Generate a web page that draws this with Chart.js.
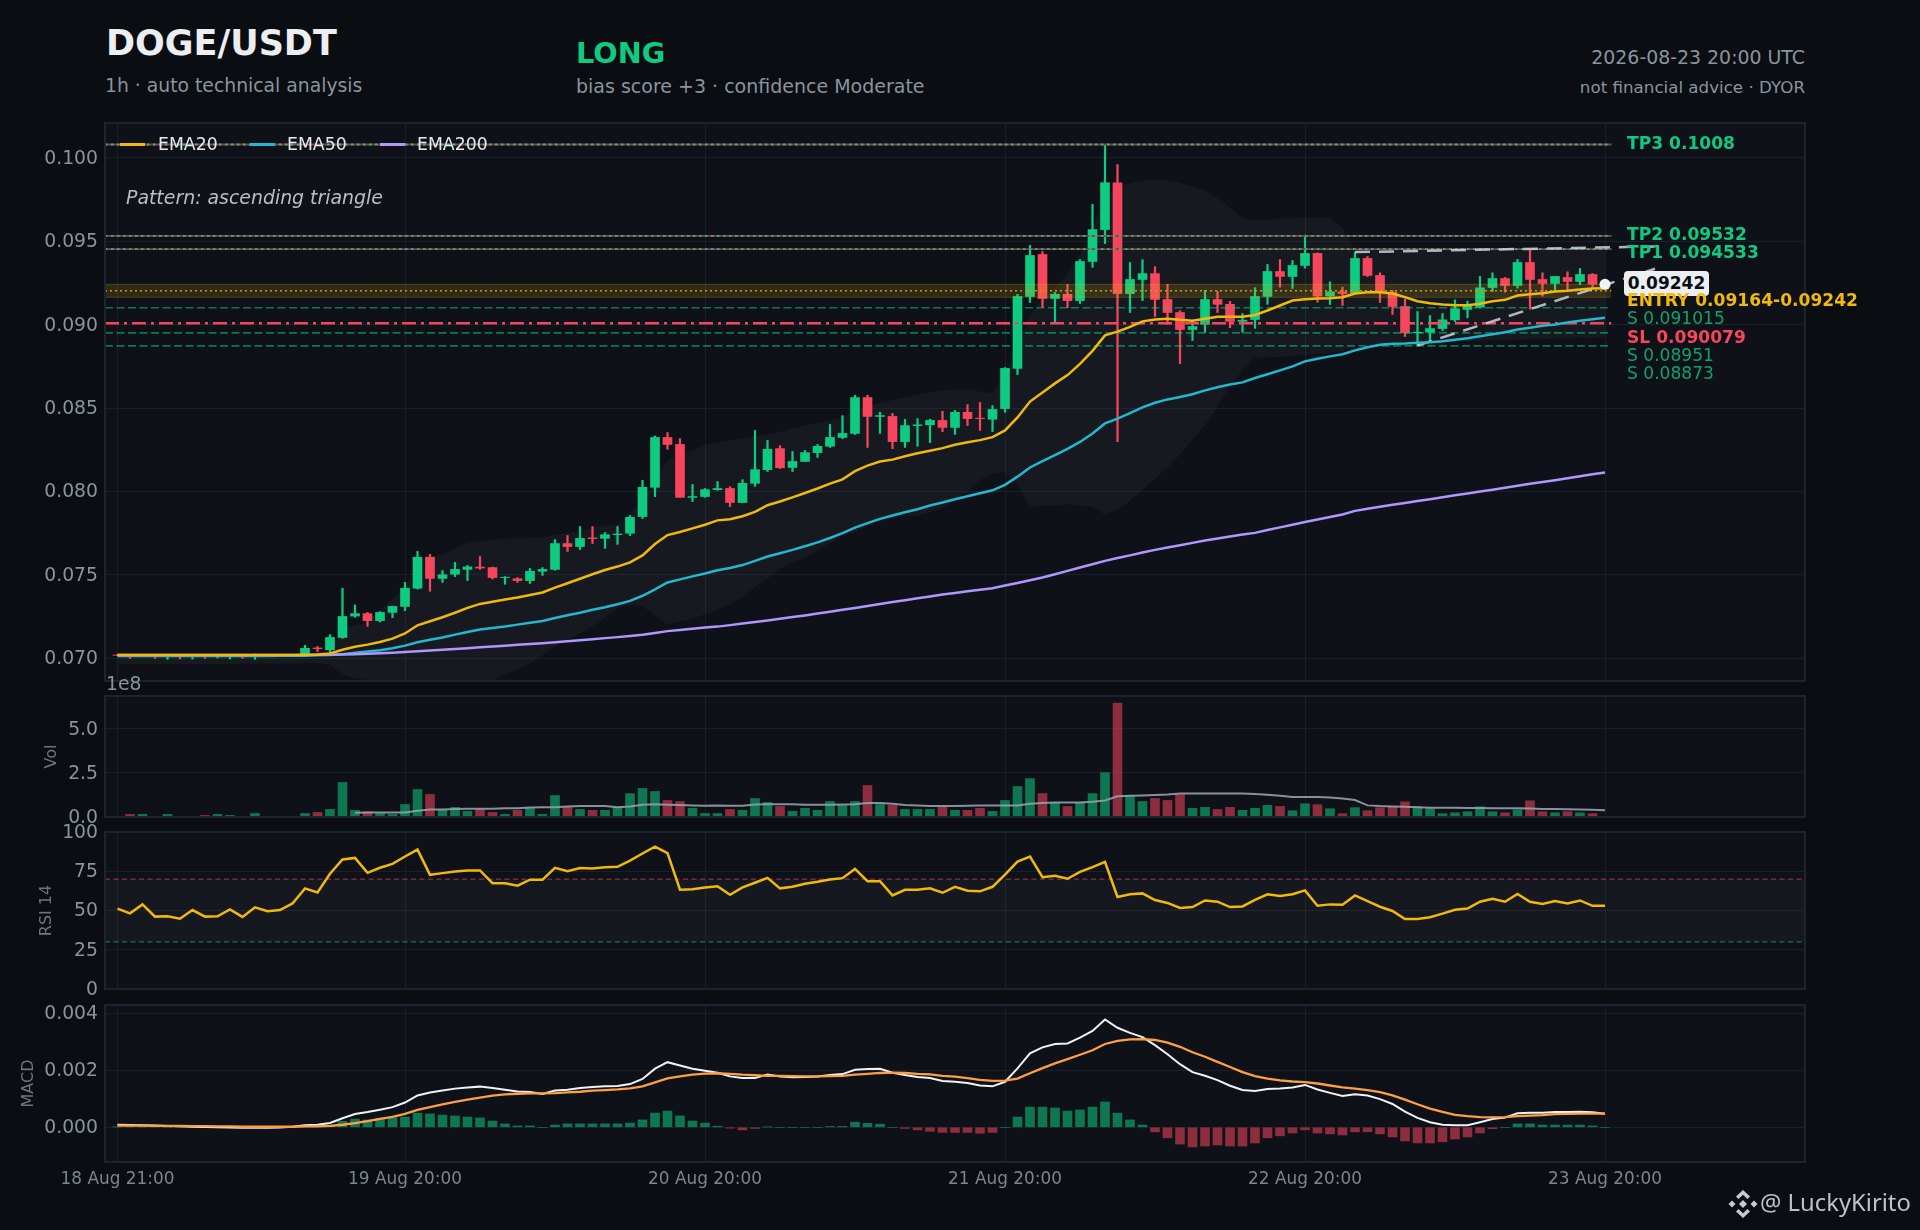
<!DOCTYPE html>
<html>
<head>
<meta charset="utf-8">
<title>DOGE/USDT</title>
<script src="https://cdn.jsdelivr.net/npm/chart.js@4"></script>
<style>
html, body { margin: 0; padding: 0; background: #0a0d11; }
body { position: relative; width: 1920px; height: 1230px; overflow: hidden; font-family: "DejaVu Sans", sans-serif; }
canvas { position: absolute; left: 0; }
.t { position: absolute; white-space: nowrap; line-height: 1; }
.lvl { left: 1627px; font-size: 17.1px; transform: translateY(-50%); }
.sw { position: absolute; width: 25px; height: 2.5px; top: 143px; }
</style>
</head>
<body>
<canvas id="mainChart"></canvas>
<canvas id="volChart"></canvas>
<canvas id="rsiChart"></canvas>
<canvas id="macdChart"></canvas>

<div class="t" style="left:106px;top:26px;font-size:35px;font-weight:bold;color:#eceef1">DOGE/USDT</div>
<div class="t" style="left:105px;top:77px;font-size:18.8px;color:#8b949e">1h · auto technical analysis</div>
<div class="t" style="left:576px;top:39px;font-size:28.7px;font-weight:bold;color:#0ecb81">LONG</div>
<div class="t" style="left:576px;top:77px;font-size:19px;color:#8b949e">bias score +3 · confidence Moderate</div>
<div class="t" style="right:115px;top:48px;font-size:18.9px;color:#8b949e">2026-08-23 20:00 UTC</div>
<div class="t" style="right:115px;top:79px;font-size:16.7px;color:#8b949e">not financial advice · DYOR</div>

<div class="sw" style="left:120px;background:#f0b90b"></div>
<div class="t" style="left:158px;top:136px;font-size:17.3px;color:#e6e8eb">EMA20</div>
<div class="sw" style="left:250px;background:#22b8cf"></div>
<div class="t" style="left:287px;top:136px;font-size:17.3px;color:#e6e8eb">EMA50</div>
<div class="sw" style="left:380px;background:#b197fc"></div>
<div class="t" style="left:417px;top:136px;font-size:17.3px;color:#e6e8eb">EMA200</div>
<div class="t" style="left:126px;top:188px;font-size:18.9px;font-style:italic;color:#b9bec8">Pattern: ascending triangle</div>
<div class="t" style="left:106px;top:675px;font-size:18.8px;color:#8b949e">1e8</div>

<div class="t lvl" style="top:144px;font-weight:bold;color:#0ecb81">TP3 0.1008</div>
<div class="t lvl" style="top:235px;font-weight:bold;color:#0ecb81">TP2 0.09532</div>
<div class="t lvl" style="top:253px;font-weight:bold;color:#0ecb81">TP1 0.094533</div>
<div class="t" style="left:1624px;top:271px;width:85px;height:25px;line-height:25px;text-align:center;background:#eceef1;border-radius:4px;font-size:17px;font-weight:bold;color:#0a0d11">0.09242</div>
<div class="t lvl" style="top:301px;font-weight:bold;color:#f0b90b">ENTRY 0.09164-0.09242</div>
<div class="t lvl" style="top:319px;color:#0ea36b">S 0.091015</div>
<div class="t lvl" style="top:338px;font-weight:bold;color:#f6465d">SL 0.090079</div>
<div class="t lvl" style="top:356px;color:#0ea36b">S 0.08951</div>
<div class="t lvl" style="top:374px;color:#0ea36b">S 0.08873</div>

<svg style="position:absolute;left:1728px;top:1190px" width="30" height="28" viewBox="0 0 30 28">
  <g fill="#c5cad3">
    <polygon points="15,0 22,6.5 19.5,9 15,4.8 10.5,9 8,6.5"/>
    <polygon points="15,28 22,21.5 19.5,19 15,23.2 10.5,19 8,21.5"/>
    <polygon points="15,10 19,14 15,18 11,14"/>
    <polygon points="4,10.5 7.5,14 4,17.5 0.5,14"/>
    <polygon points="26,10.5 29.5,14 26,17.5 22.5,14"/>
  </g>
</svg>
<div class="t" style="left:1760px;top:1191px;font-size:23.8px;font-family:'Noto Sans',sans-serif;color:#bcc1ca">@ LuckyKirito</div>

<script>
// x axis is the candle index, one candle per hour
var tickIdx = [0, 23, 47, 71, 95, 119];
var tickLabels = ['18 Aug 21:00', '19 Aug 20:00', '20 Aug 20:00', '21 Aug 20:00', '22 Aug 20:00', '23 Aug 20:00'];
var priceTicks = [0.070, 0.075, 0.080, 0.085, 0.090, 0.095, 0.100];
var volTicks = [0, 2.5, 5];
var rsiTicks = [0, 25, 50, 75, 100];
var macdTicks = [0, 0.002, 0.004];

var opens = [
  .07020,.07019,.07016,.07019,.07016,.07019,.07016,.07019,.07016,.07016,
  .07019,.07016,.07019,.07016,.07016,.07025,.07062,.07051,.07125,.07253,
  .07268,.07226,.07275,.07311,.07420,.07606,.07479,.07504,.07533,.07547,
  .07544,.07484,.07477,.07466,.07522,.07533,.07688,.07670,.07722,.07719,
  .07741,.07750,.07850,.08025,.08324,.08282,.07965,.07970,.08011,.08018,
  .07934,.08049,.08131,.08257,.08144,.08180,.08233,.08271,.08324,.08348,
  .08563,.08450,.08450,.08299,.08395,.08400,.08426,.08384,.08475,.08440,
  .08433,.08497,.08738,.09169,.09421,.09157,.09182,.09144,.09379,.09570,
  .09851,.09186,.09271,.09306,.09151,.09073,.08971,.09002,.09151,.09122,
  .09020,.09031,.09169,.09319,.09289,.09355,.09427,.09171,.09197,.09189,
  .09397,.09295,.09195,.09109,.08951,.08955,.08977,.09029,.09091,.09105,
  .09223,.09277,.09235,.09373,.09271,.09247,.09283,.09259,.09301,.09243];
var closes = [
  .07018,.07015,.07019,.07015,.07019,.07015,.07019,.07015,.07019,.07019,
  .07015,.07019,.07016,.07018,.07018,.07060,.07058,.07125,.07251,.07268,
  .07226,.07275,.07311,.07420,.07606,.07479,.07501,.07533,.07548,.07541,
  .07484,.07486,.07466,.07522,.07533,.07688,.07670,.07719,.07718,.07741,
  .07745,.07845,.08025,.08324,.08282,.07965,.07970,.08011,.08018,.07934,
  .08049,.08131,.08253,.08142,.08180,.08233,.08271,.08324,.08348,.08563,
  .08450,.08455,.08299,.08395,.08400,.08426,.08384,.08475,.08437,.08437,
  .08492,.08738,.09169,.09415,.09157,.09182,.09144,.09379,.09570,.09851,
  .09186,.09271,.09306,.09151,.09073,.08971,.08989,.09151,.09122,.09020,
  .09027,.09169,.09319,.09289,.09355,.09427,.09171,.09197,.09187,.09397,
  .09295,.09195,.09109,.08951,.08955,.08977,.09029,.09095,.09115,.09221,
  .09277,.09235,.09373,.09271,.09247,.09289,.09259,.09301,.09243,.09242];
var highs = [
  .07022,.07021,.07024,.07022,.07023,.07021,.07022,.07021,.07023,.07022,
  .07023,.07026,.07022,.07022,.07022,.07078,.07071,.07142,.07420,.07320,
  .07275,.07280,.07313,.07455,.07641,.07623,.07526,.07575,.07557,.07610,
  .07547,.07490,.07484,.07539,.07544,.07712,.07736,.07790,.07790,.07754,
  .07790,.07856,.08067,.08333,.08353,.08317,.08042,.08018,.08060,.08029,
  .08071,.08366,.08306,.08275,.08240,.08246,.08282,.08402,.08455,.08577,
  .08577,.08475,.08468,.08433,.08437,.08433,.08481,.08486,.08521,.08534,
  .08515,.08743,.09182,.09475,.09439,.09193,.09242,.09390,.09721,.10080,
  .09960,.09373,.09390,.09348,.09242,.09084,.09020,.09206,.09200,.09140,
  .09067,.09222,.09361,.09391,.09385,.09537,.09431,.09257,.09225,.09433,
  .09409,.09311,.09205,.09155,.09079,.09055,.09067,.09149,.09141,.09289,
  .09311,.09283,.09391,.09449,.09311,.09289,.09317,.09337,.09307,.09244];
var lows = [
  .07016,.07000,.07012,.07000,.06994,.06996,.06995,.07000,.07002,.06996,
  .07000,.06994,.07012,.07012,.07012,.07020,.07040,.07034,.07120,.07246,
  .07191,.07218,.07244,.07286,.07415,.07402,.07455,.07490,.07466,.07533,
  .07475,.07444,.07455,.07448,.07497,.07528,.07641,.07652,.07688,.07659,
  .07683,.07736,.07838,.07969,.08253,.07965,.07940,.07965,.08007,.07909,
  .07934,.08031,.08120,.08138,.08120,.08180,.08204,.08264,.08317,.08342,
  .08264,.08348,.08257,.08264,.08271,.08293,.08359,.08342,.08395,.08366,
  .08359,.08475,.08701,.09133,.09104,.09007,.09102,.09127,.09344,.09486,
  .08299,.09073,.09144,.09049,.09002,.08767,.08905,.08954,.09073,.08982,
  .08954,.08978,.09122,.09225,.09217,.09339,.09135,.09121,.09115,.09185,
  .09289,.09133,.09061,.08929,.08875,.08905,.08965,.09019,.09041,.09101,
  .09199,.09195,.09219,.09093,.09171,.09203,.09205,.09241,.09217,.09240];

var ema20 = [
  .07020,.07020,.07020,.07020,.07020,.07020,.07020,.07020,.07020,.07020,
  .07020,.07020,.07020,.07020,.07020,.07021,.07023,.07029,.07051,.07069,
  .07082,.07098,.07118,.07149,.07198,.07222,.07246,.07273,.07302,.07326,
  .07339,.07353,.07364,.07380,.07395,.07424,.07450,.07477,.07504,.07529,
  .07550,.07575,.07617,.07685,.07739,.07757,.07779,.07801,.07827,.07834,
  .07852,.07878,.07918,.07940,.07965,.07991,.08018,.08047,.08073,.08122,
  .08155,.08180,.08191,.08211,.08229,.08244,.08260,.08280,.08295,.08308,
  .08326,.08366,.08444,.08539,.08594,.08648,.08698,.08765,.08843,.08936,
  .08958,.08987,.09020,.09031,.09036,.09029,.09024,.09036,.09047,.09047,
  .09047,.09058,.09085,.09115,.09145,.09153,.09157,.09159,.09165,.09187,
  .09195,.09195,.09187,.09165,.09141,.09129,.09121,.09117,.09117,.09125,
  .09141,.09149,.09175,.09183,.09189,.09199,.09203,.09211,.09217,.09219];
var ema50 = [
  .07014,.07014,.07014,.07014,.07014,.07014,.07014,.07014,.07014,.07014,
  .07014,.07014,.07014,.07015,.07015,.07016,.07018,.07020,.07025,.07034,
  .07041,.07049,.07060,.07076,.07096,.07111,.07125,.07142,.07158,.07173,
  .07182,.07191,.07202,.07213,.07224,.07242,.07258,.07273,.07291,.07306,
  .07324,.07344,.07375,.07413,.07455,.07473,.07491,.07508,.07528,.07541,
  .07559,.07584,.07610,.07630,.07650,.07672,.07695,.07721,.07750,.07783,
  .07810,.07836,.07856,.07876,.07894,.07916,.07934,.07954,.07971,.07989,
  .08007,.08040,.08089,.08144,.08182,.08218,.08255,.08297,.08348,.08408,
  .08437,.08470,.08504,.08532,.08552,.08566,.08583,.08606,.08625,.08641,
  .08654,.08680,.08703,.08726,.08750,.08780,.08796,.08810,.08823,.08846,
  .08865,.08880,.08886,.08887,.08892,.08894,.08901,.08910,.08919,.08931,
  .08943,.08955,.08971,.08982,.08994,.09001,.09013,.09023,.09033,.09042];
var ema200 = [
  .07020,.07020,.07020,.07020,.07020,.07020,.07020,.07020,.07020,.07020,
  .07020,.07020,.07020,.07020,.07020,.07020,.07021,.07022,.07023,.07025,
  .07028,.07031,.07034,.07038,.07042,.07047,.07052,.07056,.07061,.07066,
  .07071,.07076,.07081,.07086,.07091,.07097,.07103,.07109,.07115,.07121,
  .07127,.07134,.07141,.07152,.07163,.07170,.07177,.07184,.07190,.07199,
  .07208,.07218,.07227,.07237,.07247,.07257,.07268,.07279,.07291,.07302,
  .07314,.07326,.07337,.07348,.07360,.07371,.07382,.07392,.07402,.07411,
  .07420,.07436,.07452,.07468,.07484,.07504,.07524,.07544,.07564,.07584,
  .07601,.07617,.07634,.07650,.07664,.07678,.07692,.07706,.07718,.07730,
  .07742,.07752,.07769,.07785,.07801,.07817,.07832,.07847,.07862,.07884,
  .07897,.07908,.07920,.07931,.07943,.07954,.07965,.07977,.07988,.08000,
  .08011,.08023,.08034,.08046,.08057,.08068,.08080,.08091,.08103,.08114];
var bbUpper = [
  .07025,.07025,.07025,.07025,.07025,.07025,.07025,.07025,.07025,.07025,
  .07025,.07025,.07025,.07025,.07025,.07026,.07028,.07040,.07180,.07198,
  .07213,.07291,.07357,.07424,.07590,.07606,.07623,.07657,.07690,.07701,
  .07712,.07716,.07719,.07721,.07723,.07741,.07750,.07767,.07783,.07796,
  .07805,.07867,.07945,.08067,.08189,.08222,.08244,.08278,.08293,.08306,
  .08317,.08333,.08342,.08355,.08377,.08395,.08410,.08426,.08444,.08488,
  .08510,.08532,.08547,.08565,.08581,.08594,.08605,.08612,.08614,.08599,
  .08588,.08710,.08865,.09064,.09153,.09220,.09308,.09419,.09574,.09774,
  .09829,.09847,.09865,.09871,.09865,.09853,.09829,.09805,.09757,.09703,
  .09637,.09625,.09631,.09637,.09637,.09643,.09643,.09643,.09577,.09445,
  .09445,.09444,.09446,.09447,.09447,.09448,.09447,.09449,.09450,.09450,
  .09452,.09453,.09454,.09456,.09456,.09458,.09459,.09461,.09462,.09463];
var bbLower = [
  .06965,.06965,.06965,.06965,.06965,.06965,.06965,.06965,.06965,.06965,
  .06967,.06967,.06967,.06968,.06968,.06970,.06970,.06965,.06903,.06881,
  .06870,.06860,.06858,.06858,.06858,.06858,.06858,.06858,.06858,.06860,
  .06865,.06903,.06936,.06969,.07020,.07069,.07113,.07147,.07191,.07246,
  .07302,.07320,.07313,.07257,.07202,.07220,.07235,.07264,.07291,.07324,
  .07368,.07424,.07479,.07535,.07575,.07601,.07646,.07690,.07734,.07756,
  .07790,.07823,.07841,.07852,.07856,.07874,.07901,.07945,.08000,.08067,
  .08111,.08116,.08034,.07905,.07912,.07916,.07923,.07916,.07907,.07861,
  .07889,.07945,.08011,.08078,.08144,.08222,.08311,.08399,.08510,.08632,
  .08725,.08803,.08805,.08807,.08812,.08820,.08829,.08829,.08840,.08876,
  .08880,.08885,.08888,.08892,.08894,.08896,.08898,.08900,.08902,.08904,
  .08906,.08908,.08910,.08912,.08913,.08915,.08917,.08919,.08921,.08923];

// volume is in units of 1e8
var volumes = [
  .02,.15,.15,.02,.15,.04,.04,.09,.15,.09,
  .02,.20,.03,.03,.03,.20,.26,.43,1.96,.38,
  .30,.20,.15,.71,1.56,1.28,.38,.55,.32,.43,
  .26,.15,.38,.55,.15,1.22,.55,.43,.38,.38,
  .55,1.33,1.62,1.45,.94,.88,.49,.20,.20,.43,
  .38,1.05,.83,.60,.32,.49,.38,.88,.66,.88,
  1.79,.71,.66,.43,.43,.43,.55,.38,.38,.49,
  .32,.94,1.73,2.18,1.33,.83,.60,.83,1.33,2.52,
  6.47,1.22,.88,1.05,.94,1.28,.49,.55,.43,.55,
  .38,.49,.66,.60,.36,.75,.70,.47,.19,.53,
  .36,.53,.58,.86,.58,.47,.19,.24,.30,.58,
  .30,.24,.41,.92,.30,.24,.30,.24,.19,.02];
var volMa = [
  null,null,null,null,null,null,null,null,null,null,
  null,null,null,null,null,null,null,null,null,.24,
  .25,.25,.25,.26,.36,.43,.43,.46,.47,.47,
  .47,.49,.49,.54,.55,.56,.60,.62,.62,.62,
  .55,.60,.70,.73,.70,.68,.66,.64,.65,.64,
  .64,.71,.72,.72,.73,.70,.69,.69,.71,.72,
  .79,.79,.75,.68,.65,.62,.62,.63,.64,.65,
  .66,.66,.66,.75,.79,.83,.83,.83,.87,.94,
  1.18,1.20,1.22,1.25,1.28,1.33,1.33,1.34,1.34,1.34,
  1.33,1.31,1.26,1.20,1.14,1.13,1.13,1.11,1.05,.96,
  .66,.62,.60,.58,.56,.53,.52,.52,.51,.51,
  .50,.50,.49,.48,.46,.45,.44,.42,.41,.39];
var rsi = [
  51.2,48.2,53.9,46.1,46.3,44.8,50.3,46.1,46.3,50.7,
  45.9,52.0,49.5,50.3,54.5,64.1,61.5,73.4,82.5,83.5,
  74.0,77.2,79.7,84.4,88.8,72.7,73.8,74.8,75.5,75.5,
  67.4,67.4,65.8,69.6,69.6,77.2,75.1,77.0,76.7,77.6,
  77.8,81.8,86.3,90.7,86.5,63.2,63.6,64.7,65.4,60.0,
  64.7,67.7,70.8,64.1,65.1,67.0,68.3,69.8,70.6,76.5,
  68.7,68.7,59.6,63.2,63.2,64.1,61.3,65.1,62.6,62.2,
  65.1,72.9,81.2,84.4,71.2,72.1,70.2,74.6,77.6,81.0,
  58.6,60.3,60.9,56.7,54.8,51.6,52.2,56.4,55.6,52.2,
  52.6,56.7,60.3,59.2,60.4,62.8,53.0,53.9,53.7,59.6,
  56.0,52.4,49.7,44.6,44.6,45.7,48.0,50.5,51.2,55.6,
  57.5,55.6,60.5,55.6,54.1,56.0,54.5,56.4,53.0,53.0];
var macdLine = [
  .00009,.00008,.00007,.00006,.00005,.00004,.00002,.00001,.00000,-.00001,
  -.00002,-.00002,-.00002,-.00001,.00002,.00007,.00009,.00015,.00032,.00047,
  .00054,.00062,.00071,.00087,.00112,.00122,.00129,.00136,.00140,.00143,
  .00138,.00132,.00126,.00124,.00117,.00129,.00132,.00138,.00142,.00144,
  .00145,.00152,.00170,.00206,.00229,.00217,.00206,.00199,.00192,.00179,
  .00173,.00173,.00186,.00179,.00176,.00177,.00179,.00184,.00187,.00202,
  .00205,.00206,.00192,.00184,.00177,.00173,.00163,.00160,.00156,.00147,
  .00144,.00160,.00207,.00260,.00281,.00293,.00295,.00315,.00339,.00379,
  .00350,.00332,.00317,.00289,.00257,.00222,.00194,.00181,.00166,.00146,
  .00131,.00128,.00135,.00136,.00140,.00149,.00133,.00121,.00110,.00116,
  .00112,.00099,.00082,.00055,.00033,.00018,.00009,.00007,.00007,.00018,
  .00029,.00034,.00049,.00051,.00051,.00054,.00054,.00055,.00053,.00048];
var macdSignal = [
  .00006,.00006,.00006,.00005,.00005,.00005,.00004,.00004,.00003,.00003,
  .00002,.00002,.00002,.00002,.00002,.00003,.00003,.00005,.00009,.00015,
  .00022,.00030,.00037,.00047,.00061,.00071,.00081,.00089,.00097,.00104,
  .00111,.00116,.00118,.00119,.00119,.00120,.00123,.00125,.00129,.00131,
  .00133,.00137,.00144,.00158,.00172,.00179,.00185,.00189,.00190,.00188,
  .00185,.00183,.00181,.00181,.00180,.00179,.00179,.00180,.00181,.00185,
  .00188,.00191,.00192,.00191,.00188,.00186,.00181,.00178,.00173,.00167,
  .00163,.00164,.00171,.00190,.00208,.00225,.00240,.00255,.00271,.00293,
  .00304,.00309,.00310,.00307,.00298,.00283,.00264,.00248,.00230,.00212,
  .00194,.00180,.00171,.00165,.00161,.00159,.00154,.00147,.00140,.00136,
  .00131,.00124,.00112,.00097,.00081,.00066,.00054,.00044,.00039,.00036,
  .00035,.00036,.00039,.00041,.00043,.00046,.00047,.00048,.00048,.00048];
var macdHist = [
  .00001,.00001,.00001,.00001,0,0,0,0,0,0,
  0,0,0,0,0,.00001,.00002,.00005,.00021,.00029,
  .00026,.00032,.00034,.00036,.00050,.00047,.00043,.00040,.00036,.00033,
  .00022,.00012,.00005,.00005,0,.00008,.00012,.00012,.00012,.00012,
  .00012,.00015,.00026,.00050,.00057,.00040,.00022,.00015,.00004,-.00003,
  -.00009,-.00004,.00001,0,0,0,0,.00003,.00003,.00018,
  .00014,.00011,0,-.00004,-.00009,-.00014,-.00018,-.00018,-.00018,-.00021,
  -.00018,0,.00036,.00071,.00071,.00068,.00057,.00061,.00071,.00089,
  .00050,.00026,.00008,-.00016,-.00037,-.00059,-.00069,-.00066,-.00062,-.00066,
  -.00066,-.00055,-.00037,-.00030,-.00020,-.00009,-.00020,-.00023,-.00027,-.00016,
  -.00016,-.00023,-.00034,-.00048,-.00055,-.00055,-.00051,-.00041,-.00034,-.00020,
  -.00005,0,.00012,.00012,.00008,.00008,.00008,.00008,.00005,0];

// trade levels
var tpLevels = [0.1008, 0.09532, 0.094533];
var supportLevels = [0.091015, 0.08951, 0.08873];
var stopLevel = 0.090079;
var entryLow = 0.09164;
var entryHigh = 0.09242;
var lastPrice = 0.09242;
// pattern lines, [index, price] at both ends
var upperTrend = [[99, 0.09435], [123, 0.09469]];
var lowerTrend = [[104, 0.08875], [123, 0.09335]];

var GREEN = '#0ecb81';
var RED = '#f6465d';
var GREEN_DIM = 'rgba(14,203,129,0.55)';
var RED_DIM = 'rgba(246,70,93,0.55)';
var GRID = '#1a1f2a';
var FRAME = '#1d2330';

var LEFT = 105;
var RIGHT_GAP = 115;
var LEVEL_END = 119.5;
var X_MIN = -1;
var X_MAX = 135;

Chart.defaults.font.family = '"DejaVu Sans", sans-serif';

// Candle direction picks the colour of bodies, wicks and volume bars
function dirColors(up, down) {
    return closes.map(function (c, i) { return c >= opens[i] ? up : down; });
}
function pts(series) {
    return series.map(function (y, x) { return { x: x, y: y }; });
}
function hLine(y, from, to, style) {
    var ds = {
        type: 'line',
        data: [{ x: from, y: y }, { x: to, y: y }],
        pointRadius: 0,
        borderWidth: 1.7
    };
    return Object.assign(ds, style);
}
function curve(series, color, width, order) {
    return {
        type: 'line',
        data: pts(series),
        borderColor: color,
        borderWidth: width,
        pointRadius: 0,
        tension: 0,
        spanGaps: false,
        order: order
    };
}
function bars(low, high, colors, thickness, order) {
    return {
        type: 'bar',
        data: low.map(function (l, i) { return { x: i, y: [l, high[i]] }; }),
        backgroundColor: colors,
        barThickness: thickness,
        grouped: false,
        borderWidth: 0,
        order: order
    };
}

// Panel background and frame, the library only gives gridlines
var panelPlugin = {
    id: 'panel',
    beforeDraw: function (chart) {
        var a = chart.chartArea, ctx = chart.ctx;
        ctx.save();
        ctx.fillStyle = '#0e1117';
        ctx.fillRect(a.left, a.top, a.right - a.left, a.bottom - a.top);
        ctx.restore();
    },
    afterDraw: function (chart) {
        var a = chart.chartArea, ctx = chart.ctx;
        ctx.save();
        ctx.strokeStyle = FRAME;
        ctx.lineWidth = 2;
        ctx.strokeRect(a.left, a.top, a.right - a.left, a.bottom - a.top);
        ctx.restore();
    }
};

// Each panel is its own chart, placed so the plot areas line up
function makeChart(id, top, bottom, yCfg, datasets, showX) {
    var pad = 24;
    var xHeight = showX ? 30 : 0;
    var canvas = document.getElementById(id);
    canvas.width = 1920;
    canvas.height = (bottom - top) + pad * 2 + xHeight;
    canvas.style.top = (top - pad) + 'px';

    var yScale = {
        min: yCfg.min,
        max: yCfg.max,
        position: 'left',
        afterBuildTicks: function (s) { s.ticks = yCfg.ticks.map(function (v) { return { value: v }; }); },
        afterFit: function (s) { s.width = LEFT; },
        grid: { color: GRID, drawTicks: false },
        border: { display: false },
        ticks: {
            color: '#8b949e',
            font: { size: 18.8 },
            padding: 7,
            labelOffset: 1,
            autoSkip: false,
            callback: yCfg.format
        }
    };
    if (yCfg.title) {
        yScale.title = {
            display: true,
            text: yCfg.title,
            color: '#6e7681',
            font: { size: 16 },
            padding: { top: yCfg.titleAt, bottom: 0 }
        };
    }

    return new Chart(canvas, {
        type: 'bar',
        data: { datasets: datasets },
        plugins: [panelPlugin],
        options: {
            responsive: false,
            animation: false,
            devicePixelRatio: 1,
            layout: { autoPadding: false, padding: { top: pad, bottom: pad, left: 0, right: RIGHT_GAP } },
            plugins: { legend: { display: false }, tooltip: { enabled: false } },
            scales: {
                x: {
                    type: 'linear',
                    offset: false,
                    min: X_MIN,
                    max: X_MAX,
                    afterBuildTicks: function (s) { s.ticks = tickIdx.map(function (v) { return { value: v }; }); },
                    afterFit: function (s) { s.height = xHeight; },
                    grid: { color: GRID, drawTicks: false, offset: false },
                    border: { display: false },
                    ticks: {
                        display: !!showX,
                        color: '#7d8590',
                        font: { size: 16.9 },
                        padding: 7,
                        autoSkip: false,
                        maxRotation: 0,
                        callback: function (v) { return tickLabels[tickIdx.indexOf(v)]; }
                    }
                },
                y: yScale
            }
        }
    });
}

// Price panel
var mainSets = [];
mainSets.push(Object.assign(curve(bbUpper, 'transparent', 0, 100), { fill: '+1', backgroundColor: 'rgba(255,255,255,0.035)' }));
mainSets.push(curve(bbLower, 'transparent', 0, 100));
mainSets.push(bars(lows, highs, dirColors(GREEN, RED), 1.6, 90));
mainSets.push(bars(opens.map(function (o, i) { return Math.min(o, closes[i]); }),
    opens.map(function (o, i) { return Math.max(o, closes[i]); }),
    dirColors(GREEN, RED), 9, 80));
tpLevels.forEach(function (lv) {
    mainSets.push(hLine(lv, X_MIN, LEVEL_END, { borderColor: '#a33346', borderWidth: 1.8, order: 60 }));
    mainSets.push(hLine(lv, X_MIN, LEVEL_END, { borderColor: GREEN, borderWidth: 1.8, borderDash: [2.5, 3.5], order: 59 }));
});
supportLevels.forEach(function (lv) {
    mainSets.push(hLine(lv, X_MIN, LEVEL_END, { borderColor: 'rgba(14,203,129,0.55)', borderDash: [8, 3.5], order: 58 }));
});
mainSets.push(hLine(stopLevel, X_MIN, LEVEL_END, { borderColor: RED, borderWidth: 2.5, borderDash: [14, 5, 3, 5], order: 57 }));
mainSets.push(hLine(entryHigh, X_MIN, LEVEL_END, { borderColor: 'rgba(240,185,11,0.22)', borderWidth: 1, fill: '+1', backgroundColor: 'rgba(240,185,11,0.15)', order: 56 }));
mainSets.push(hLine(entryLow, X_MIN, LEVEL_END, { borderColor: 'rgba(240,185,11,0.22)', borderWidth: 1, order: 56 }));
mainSets.push(hLine((entryLow + entryHigh) / 2, X_MIN, LEVEL_END, { borderColor: '#c99a0c', borderWidth: 1.5, borderDash: [2, 3], order: 55 }));
[upperTrend, lowerTrend].forEach(function (t) {
    mainSets.push({
        type: 'line',
        data: t.map(function (p) { return { x: p[0], y: p[1] }; }),
        borderColor: 'rgba(205,210,220,0.85)',
        borderWidth: 2.5,
        borderDash: [15, 9],
        pointRadius: 0,
        clip: false,
        order: 40
    });
});
mainSets.push(curve(ema50, '#22b8cf', 2.5, 32));
mainSets.push(curve(ema200, '#b197fc', 2.5, 31));
mainSets.push(curve(ema20, '#f0b90b', 2.5, 30));
mainSets.push({
    type: 'line',
    data: [{ x: 119, y: lastPrice }],
    pointRadius: 5.5,
    pointBackgroundColor: '#f0f2f5',
    pointBorderWidth: 0,
    order: 10
});
makeChart('mainChart', 122.5, 681, {
    min: 0.06864, max: 0.10209, ticks: priceTicks,
    format: function (v) { return v.toFixed(3); }
}, mainSets);

// Volume panel
var zeros = volumes.map(function () { return 0; });
makeChart('volChart', 695.7, 816.7, {
    min: 0, max: 6.87, ticks: volTicks, title: 'Vol', titleAt: 42,
    format: function (v) { return v.toFixed(1); }
}, [
    bars(zeros, volumes, dirColors(GREEN_DIM, RED_DIM), 9, 20),
    curve(volMa, 'rgba(150,158,170,0.9)', 2, 10)
]);

// RSI panel
makeChart('rsiChart', 832.3, 990, {
    min: 0, max: 100, ticks: rsiTicks, title: 'RSI 14', titleAt: 37,
    format: function (v) { return String(v); }
}, [
    hLine(70, X_MIN, X_MAX, { borderColor: RED_DIM, borderWidth: 1.4, borderDash: [5, 3.5], fill: '+1', backgroundColor: 'rgba(255,255,255,0.03)', order: 30 }),
    hLine(30, X_MIN, X_MAX, { borderColor: GREEN_DIM, borderWidth: 1.4, borderDash: [5, 3.5], order: 30 }),
    curve(rsi, '#f0b90b', 2.5, 10)
]);

// MACD panel
makeChart('macdChart', 1004.7, 1162, {
    min: -0.00122, max: 0.0043, ticks: macdTicks, title: 'MACD', titleAt: 19,
    format: function (v) { return v.toFixed(3); }
}, [
    bars(macdHist.map(function () { return 0; }), macdHist,
        macdHist.map(function (h) { return h >= 0 ? GREEN_DIM : RED_DIM; }), 9, 30),
    curve(macdLine, '#f0f2f5', 2, 20),
    curve(macdSignal, '#ff9f43', 2.3, 10)
], true);
</script>
</body>
</html>
